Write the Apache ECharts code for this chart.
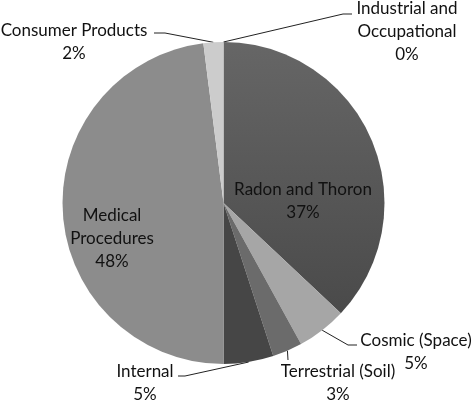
<!DOCTYPE html>
<html>
<head>
<meta charset="utf-8">
<script src="https://cdn.jsdelivr.net/npm/echarts@6/dist/echarts.min.js"></script>
<style>
html,body{margin:0;padding:0;background:#fff;}
#chart{width:474px;height:401px;}
</style>
</head>
<body>
<div id="chart"></div>
<script>
const categories = ["Radon and Thoron", "Cosmic (Space)", "Terrestrial (Soil)", "Internal", "Medical\nProcedures", "Consumer Products", "Industrial and\nOccupational"];
const percents = [37, 5, 3, 5, 48, 2, 0];

const colors = [
  {type:'linear', x:0, y:0, x2:0, y2:1, colorStops:[{offset:0,color:'#666666'},{offset:1,color:'#4a4a4a'}]},
  '#a6a6a6', '#6b6b6b', '#464646', '#8c8c8c', '#cccccc', '#bbbbbb'
];

// label layout (pixel positions of label centres and leader bends)
const layouts = [
  {x:303, y:201},
  {x:416, y:352, bends:[[348,345],[357,345]]},
  {x:338, y:383, bends:[[288,360]]},
  {x:145, y:383, bends:[[185,376],[178,376]]},
  {x:112, y:239},
  {x:74,  y:42,  bends:[[165,33],[154,33]]},
  {x:407, y:32,  bends:[[343,14],[352,14]]}
];

const chart = echarts.init(document.getElementById('chart'), null, {renderer:'canvas'});
chart.setOption({
  animation:false,
  backgroundColor:'#ffffff',
  series:[{
    type:'pie',
    center:[223.5, 203],
    radius:[0, 161],
    startAngle:90,
    clockwise:true,
    minAngle:0,
    avoidLabelOverlap:false,
    stillShowZeroSum:true,
    itemStyle:{borderWidth:0},
    label:{
      show:true,
      position:'outside',
      formatter: p => p.name + '\n' + percents[p.dataIndex] + '%',
      fontFamily:'Lato',
      fontSize:17,
      lineHeight:23,
      color:'#111111',
      align:'center'
    },
    labelLine:{show:true, lineStyle:{color:'#222', width:1}, length:10, length2:10, smooth:false},
    emphasis:{disabled:true},
    labelLayout: function(params){
      const L = layouts[params.dataIndex];
      const out = {x:L.x, y:L.y, align:'center', verticalAlign:'middle', moveOverlap:false, hideOverlap:false};
      if (L.bends && params.labelLinePoints) {
        out.labelLinePoints = [params.labelLinePoints[0]].concat(L.bends);
      }
      return out;
    },
    data: categories.map((c,i)=>({
      name:c,
      value:percents[i],
      itemStyle:{color:colors[i]},
      labelLine:{show: !!layouts[i].bends}
    }))
  }]
});
</script>
</body>
</html>
